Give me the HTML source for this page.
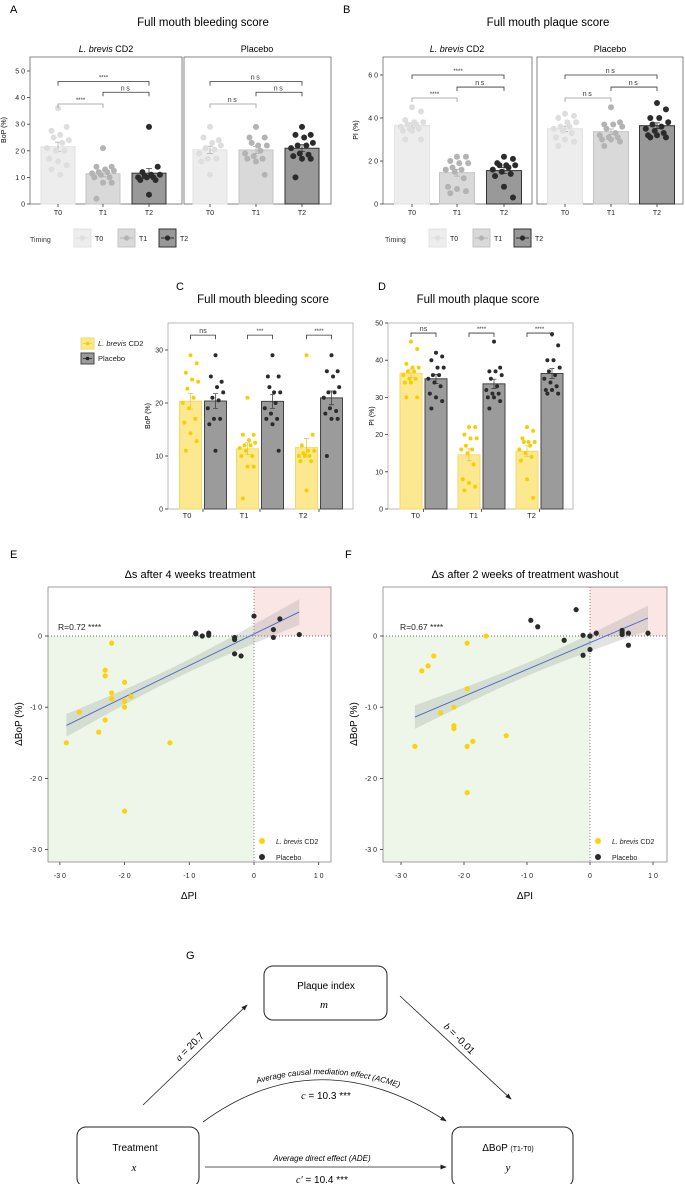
<!DOCTYPE html>
<html><head><meta charset="utf-8">
<style>
html,body{margin:0;padding:0;background:#fff;}
svg{display:block;font-family:"Liberation Sans",Arial,sans-serif;}
</style></head>
<body>
<svg id="fig" width="685" height="1184" viewBox="0 0 685 1184" xmlns="http://www.w3.org/2000/svg">
<text x="10" y="13" font-size="11">A</text>
<text x="343" y="13" font-size="11">B</text>
<text x="203" y="26" font-size="11.5" text-anchor="middle">Full mouth bleeding score</text>
<text x="548" y="26" font-size="11.5" text-anchor="middle">Full mouth plaque score</text>
<text x="106" y="52" font-size="9" text-anchor="middle" font-style="italic">L. brevis <tspan font-style="normal">CD2</tspan></text>
<text x="257" y="52" font-size="9" text-anchor="middle">Placebo</text>
<text x="457" y="52" font-size="9" text-anchor="middle" font-style="italic">L. brevis <tspan font-style="normal">CD2</tspan></text>
<text x="610" y="52" font-size="9" text-anchor="middle">Placebo</text>
<text x="6" y="130" font-size="7" text-anchor="middle" transform="rotate(-90 6 130)">BoP (%)</text>
<text x="358" y="130" font-size="7" text-anchor="middle" transform="rotate(-90 358 130)">PI (%)</text>

<text x="176" y="290" font-size="11">C</text>
<text x="378" y="290" font-size="11">D</text>
<text x="263" y="303" font-size="11.5" text-anchor="middle">Full mouth bleeding score</text>
<text x="478" y="303" font-size="11.5" text-anchor="middle">Full mouth plaque score</text>
<text x="150" y="416" font-size="7" text-anchor="middle" transform="rotate(-90 150 416)">BoP (%)</text>
<text x="374" y="416" font-size="7" text-anchor="middle" transform="rotate(-90 374 416)">PI (%)</text>

<text x="10" y="558" font-size="11">E</text>
<text x="345" y="558" font-size="11">F</text>
<text x="190" y="578" font-size="11" text-anchor="middle">Δs after 4 weeks treatment</text>
<text x="525" y="578" font-size="11" text-anchor="middle">Δs after 2 weeks of treatment washout</text>
<text x="22" y="724" font-size="10" text-anchor="middle" transform="rotate(-90 22 724)">ΔBoP (%)</text>
<text x="357" y="724" font-size="10" text-anchor="middle" transform="rotate(-90 357 724)">ΔBoP (%)</text>
<text x="189" y="899" font-size="10" text-anchor="middle">ΔPI</text>
<text x="525" y="899" font-size="10" text-anchor="middle">ΔPI</text>

<g>
<defs><marker id="ar" markerWidth="8" markerHeight="6" refX="7" refY="3" orient="auto"><path d="M0,0 L8,3 L0,6 z" fill="#222"/></marker></defs>
<text x="186" y="959" font-size="11">G</text>
<rect x="264" y="966" width="123" height="54" rx="9" fill="#fff" stroke="#222" stroke-width="1"/>
<text x="326" y="989" font-size="10" text-anchor="middle">Plaque index</text>
<text x="324" y="1008" font-size="11" font-style="italic" font-family="Liberation Serif,serif" text-anchor="middle">m</text>
<rect x="77" y="1127" width="122" height="60" rx="9" fill="#fff" stroke="#222"/>
<text x="135" y="1151" font-size="10" text-anchor="middle">Treatment</text>
<text x="134" y="1171" font-size="11" font-style="italic" font-family="Liberation Serif,serif" text-anchor="middle">x</text>
<rect x="452" y="1127" width="121" height="60" rx="9" fill="#fff" stroke="#222"/>
<text x="508" y="1151" font-size="10" text-anchor="middle">ΔBoP <tspan font-size="7">(T1-T0)</tspan></text>
<text x="508" y="1171" font-size="11" font-style="italic" font-family="Liberation Serif,serif" text-anchor="middle">y</text>
<line x1="143" y1="1105" x2="247" y2="1005" stroke="#222" stroke-width="0.8" marker-end="url(#ar)"/>
<line x1="400" y1="996" x2="511" y2="1099" stroke="#222" stroke-width="0.8" marker-end="url(#ar)"/>
<path d="M203,1122 Q318,1038 446,1121" fill="none" stroke="#222" stroke-width="0.8" marker-end="url(#ar)"/>
<line x1="205" y1="1167" x2="446" y2="1167" stroke="#222" stroke-width="0.8" marker-end="url(#ar)"/>
<text x="192" y="1049" font-size="10" text-anchor="middle" transform="rotate(-45 192 1049)"><tspan font-style="italic" font-family="Liberation Serif,serif">a</tspan> = 20.7</text>
<text x="457" y="1041" font-size="10" text-anchor="middle" transform="rotate(45 457 1041)"><tspan font-style="italic" font-family="Liberation Serif,serif">b</tspan> = -0.01</text>
<path id="acmePath" d="M248,1086 Q330,1060 408,1091" fill="none"/>
<text font-size="8" font-style="italic"><textPath href="#acmePath" startOffset="50%" text-anchor="middle">Average causal mediation effect (ACME)</textPath></text>
<text x="326" y="1099" font-size="10" text-anchor="middle"><tspan font-style="italic" font-family="Liberation Serif,serif">c</tspan> = 10.3 ***</text>
<text x="322" y="1161" font-size="8" font-style="italic" text-anchor="middle">Average direct effect (ADE)</text>
<text x="322" y="1183" font-size="10" text-anchor="middle"><tspan font-style="italic" font-family="Liberation Serif,serif">c'</tspan> = 10.4 ***</text>
</g>
</svg>
<script>
var timings = ["T0","T1","T2"];
var bopBrevisT0 = [36,29,27.5,26,24,25,23,21,20,20,17,16,14.5,13,11];
var bopBrevisT1 = [21,14,14,13,12.5,12,12,11.5,11,10,10,8,8,2];
var bopBrevisT2 = [29,14,12,11,11,10.5,10,10,10,9,9,3.5];
var bopPlaceboT0 = [29,24,25,23,22,21,20.5,19,17,17,16,11];
var bopPlaceboT1 = [29,25,25,22,22,23,20,19,18,17,17,16,11];
var bopPlaceboT2 = [29,26,26,25,23,22,22,21,19,18.5,18,17,17,10];
var bopBrevisT0C = [29,27.5,25.7,24.4,24,22.7,21,20,19,17,16.3,14.3,12.8,11];
var piBrevisT0 = [45,43,39,38,38,37,37,36,35,35,34,34,30,30];
var piBrevisT1 = [22,22,20,19,19,17,16,16,15,12,8,7,6,5];
var piBrevisT2 = [22,21,19,18,18,18,17,16,15,14,13,8,3];
var piPlaceboT0 = [42,41,40,38,38,36,36,35,34,33,31,30,29,27];
var piPlaceboT1 = [45,38,37,37,36,35,33,32,31,31,30,30,29,27];
var piPlaceboT2 = [47,44,40,40,38,37,36,35,34,33,32,32,31,31];
var ticksA = [0,10,20,30,40,50];
var tickLabelsA = ["0","1 0","2 0","3 0","4 0","5 0"];
var ticksB = [0,20,40,60];
var tickLabelsB = ["0","2 0","4 0","6 0"];
var ticksC = [0,10,20,30];
var tickLabelsC = ["0","10","20","30"];
var ticksD = [0,10,20,30,40,50];
var tickLabelsD = ["0","10","20","30","40","50"];
var sigA_brevis = ["****","ns","****"];
var sigA_placebo = ["ns","ns","ns"];
var sigB_brevis = ["****","ns","****"];
var sigB_placebo = ["ns","ns","ns"];
var sigC = ["ns","***","****"];
var sigD = ["ns","****","****"];
var bracketValsA = [46,42,37.6];
var bracketValsB = [60,54.4,49.3];
var bracketValC = 32.8;
var bracketValD = 47.3;
var eBrevisX = [-29,-27,-24,-23,-23,-23,-22,-22,-22,-20,-20,-20,-19,-20,-13];
var eBrevisY = [-15,-10.7,-13.5,-11.8,-4.8,-5.6,-1,-8,-8.8,-6.5,-9.2,-10,-8.5,-24.6,-15];
var ePlaceboX = [-9,-9,-8,-7,-7,-3,-3,-3,-2,0,3,3,4,7];
var ePlaceboY = [0.3,0.4,0,0.4,0.1,-0.2,-0.5,-2.5,-2.8,2.8,0.9,-0.2,2.4,0.2];
var fBrevisX = [-27.8,-26.7,-25.7,-24.8,-23.7,-21.6,-21.6,-21.6,-19.5,-19.5,-19.5,-19.5,-18.6,-16.5,-13.3];
var fBrevisY = [-15.5,-4.9,-4.2,-2.8,-10.8,-10,-12.6,-13,-1,-7.4,-15.5,-22,-14.8,0,-14];
var fPlaceboX = [-9.4,-8.3,-4.1,-2.2,-1.1,-1.1,0,0,0,1,5.1,5.1,5.1,6.1,6.1,9.2];
var fPlaceboY = [2.2,1.3,-0.6,3.7,0.1,-2.7,0,-1.9,0,0.4,0.8,0.5,0.2,0.4,-1.3,0.4];
var scatterTicksX = [-30,-20,-10,0,10];
var scatterTickLabelsX = ["-3 0","-2 0","-1 0","0","1 0"];
var scatterTicksY = [0,-10,-20,-30];
var scatterTickLabelsY = ["0","-1 0","-2 0","-3 0"];
var rLabelE = "R=0.72 ****";
var rLabelF = "R=0.67 ****";

var svg = document.getElementById('fig');
var NS = 'http://www.w3.org/2000/svg';
function mk(tag, attrs, parent) {
  var el = document.createElementNS(NS, tag);
  for (var k in attrs) el.setAttribute(k, attrs[k]);
  (parent || svg).appendChild(el);
  return el;
}
function mean(a){var s=0;for(var i=0;i<a.length;i++)s+=a[i];return s/a.length;}
function se(a){var m=mean(a),s=0;for(var i=0;i<a.length;i++)s+=(a[i]-m)*(a[i]-m);return Math.sqrt(s/(a.length-1))/Math.sqrt(a.length);}
function jit(i){return (((i*37+5)%11)-5)/5;}

var barFill = ["#ededed","#d9d9d9","#999999"];
var barStroke = ["#e2e2e2","#c4c4c4","#333333"];
var ptFill = ["#dedede","#b3b3b3","#2b2b2b"];

function yAxis(x, ticks, labels, yf) {
  for (var i=0;i<ticks.length;i++){
    var yy = yf(ticks[i]);
    var t = mk('line',{x1:x-3,y1:yy,x2:x,y2:yy,stroke:'#333','stroke-width':0.8});
    
    
    var l = mk('text',{x:x-5,y:yy+2.5,'font-size':7,'text-anchor':'end',fill:'#222'});
    l.textContent = labels[i];
    
    
  }
}

function facetPanel(x0, x1, top, bottom, centers, groups, yf, sigs, brVals, bw, name) {
  var box = mk('rect',{x:x0,y:top,width:x1-x0,height:bottom-top,fill:'none',stroke:'#666','stroke-width':0.8});
  
  
  for (var g=0; g<3; g++){
    var m = mean(groups[g]), cx = centers[g];
    var b = mk('rect',{x:cx-bw/2,y:yf(m),width:bw,height:bottom-yf(m),fill:barFill[g],stroke:barStroke[g],'stroke-width':1});
    
    
    var s = se(groups[g]);
    var eb = mk('path',{d:'M'+(cx-3)+','+yf(m+s)+'H'+(cx+3)+'M'+cx+','+yf(m+s)+'V'+yf(m-s)+'M'+(cx-3)+','+yf(m-s)+'H'+(cx+3),stroke:g==2?'#222':'#aaa','stroke-width':0.7,fill:'none'});
    
    
    for (var i=0;i<groups[g].length;i++){
      var p = mk('circle',{cx:cx+jit(i)*bw*0.32,cy:yf(groups[g][i]),r:3,fill:ptFill[g]});
      
      
    }
    var tk = mk('line',{x1:cx,y1:bottom,x2:cx,y2:bottom+3,stroke:'#333','stroke-width':0.8});
    
    
    var tl = mk('text',{x:cx,y:bottom+11,'font-size':7,'text-anchor':'middle',fill:'#222'});
    tl.textContent = timings[g];
    
    
  }
  var pairs = [[0,2],[1,2],[0,1]];
  for (var k=0;k<3;k++){
    var a = centers[pairs[k][0]], c = centers[pairs[k][1]], yy = yf(brVals[k]);
    var br = mk('path',{d:'M'+a+','+(yy+4)+'V'+yy+'H'+c+'V'+(yy+4),fill:'none',stroke:k==2?'#999':'#333','stroke-width':0.8});
    
    
    var st = mk('text',{x:(a+c)/2,y:yy-2,'font-size':sigs[k]=='ns'?7:6,'text-anchor':'middle',fill:'#333','letter-spacing':sigs[k]=='ns'?1.5:0});
    st.textContent = sigs[k];
    
    
  }
}

var yA = function(v){return 204 - v*2.66;};
yAxis(30, ticksA, tickLabelsA, yA);
facetPanel(30,182,57,204,[58,103,149],[bopBrevisT0,bopBrevisT1,bopBrevisT2],yA,sigA_brevis,bracketValsA,34,'a-brevis');
facetPanel(184,331,57,204,[210,256,302],[bopPlaceboT0,bopPlaceboT1,bopPlaceboT2],yA,sigA_placebo,bracketValsA,34,'a-placebo');
var yB = function(v){return 204 - v*2.15;};
yAxis(383, ticksB, tickLabelsB, yB);
facetPanel(383,532,57,204,[412,457,504],[piBrevisT0,piBrevisT1,piBrevisT2],yB,sigB_brevis,bracketValsB,35,'b-brevis');
facetPanel(537,683,57,204,[565,611,657],[piPlaceboT0,piPlaceboT1,piPlaceboT2],yB,sigB_placebo,bracketValsB,35,'b-placebo');

function timingLegend(x, name){
  var t = mk('text',{x:x,y:242,'font-size':7,fill:'#333'});
  t.textContent='Timing';
  
  
  var xs=[x+44,x+88,x+129];
  for (var g=0;g<3;g++){
    var r = mk('rect',{x:xs[g],y:229,width:17,height:18,fill:barFill[g],stroke:barStroke[g],'stroke-width':1});
    
    
    mk('line',{x1:xs[g]+2,y1:238,x2:xs[g]+15,y2:238,stroke:ptFill[g],'stroke-width':1});
    mk('circle',{cx:xs[g]+8.5,cy:238,r:2.6,fill:ptFill[g]});
    var l = mk('text',{x:xs[g]+21,y:241,'font-size':7,fill:'#222'});
    l.textContent = timings[g];
    
    
  }
}
timingLegend(30,'a');
timingLegend(385,'b');

var yellowBar='#fbe88f', yellowStroke='#f3d86b', yellowPt='#f7cf00';
function groupedPanel(x0,x1,top,bottom,centers,brevis,placebo,yf,ticks,labels,sigs,brVal,bw,lblOff,name){
  var box = mk('rect',{x:x0,y:top,width:x1-x0,height:bottom-top,fill:'none',stroke:'#aaa','stroke-width':0.8});
  
  
  yAxis(x0, ticks, labels, yf);
  for (var g=0;g<3;g++){
    var sets=[brevis[g],placebo[g]];
    for (var s=0;s<2;s++){
      var cx = centers[g] + (s==0?-1:1)*(bw/2+1.5);
      var m = mean(sets[s]);
      var b = mk('rect',{x:cx-bw/2,y:yf(m),width:bw,height:bottom-yf(m),fill:s==0?yellowBar:'#9b9b9b',stroke:s==0?yellowStroke:'#444','stroke-width':1});
      
      
      var e = se(sets[s]);
      var eb = mk('path',{d:'M'+(cx-2.5)+','+yf(m+e)+'H'+(cx+2.5)+'M'+cx+','+yf(m+e)+'V'+yf(m-e)+'M'+(cx-2.5)+','+yf(m-e)+'H'+(cx+2.5),stroke:s==0?'#e8c040':'#333','stroke-width':0.7,fill:'none'});
      
      
      for (var i=0;i<sets[s].length;i++){
        var p = mk('circle',{cx:cx+jit(i)*bw*0.35,cy:yf(sets[s][i]),r:2,fill:s==0?yellowPt:'#2b2b2b'});
        
        
      }
    }
    var a = centers[g]-bw/2-1.5, c = centers[g]+bw/2+1.5, yy=yf(brVal);
    var br = mk('path',{d:'M'+a+','+(yy+4)+'V'+yy+'H'+c+'V'+(yy+4),fill:'none',stroke:'#333','stroke-width':0.8});
    
    
    var st = mk('text',{x:centers[g],y:yy-2,'font-size':sigs[g]=='ns'?7:6,'text-anchor':'middle',fill:'#333'});
    st.textContent = sigs[g];
    
    
    var tk = mk('line',{x1:centers[g],y1:bottom,x2:centers[g],y2:bottom+3,stroke:'#333','stroke-width':0.8});
    
    
    var tl = mk('text',{x:centers[g]+lblOff,y:bottom+9,'font-size':7.5,'text-anchor':'middle',fill:'#222'});
    tl.textContent = timings[g];
    
    
  }
}
var yC = function(v){return 509 - v*5.3;};
groupedPanel(168,353,323,509,[203,260,319],[bopBrevisT0C,bopBrevisT1,bopBrevisT2],[bopPlaceboT0,bopPlaceboT1,bopPlaceboT2],yC,ticksC,tickLabelsC,sigC,bracketValC,22,-16,'c');
var yD = function(v){return 509 - v*3.72;};
groupedPanel(388,573,323,509,[423.5,481.5,539.5],[piBrevisT0,piBrevisT1,piBrevisT2],[piPlaceboT0,piPlaceboT1,piPlaceboT2],yD,ticksD,tickLabelsD,sigD,bracketValD,22,-8,'d');
(function(){
  var r1 = mk('rect',{x:81,y:338,width:13,height:11,fill:yellowBar,stroke:yellowStroke});
  
  
  mk('line',{x1:83,y1:343.5,x2:92,y2:343.5,stroke:yellowPt,'stroke-width':0.8});
  mk('circle',{cx:87.5,cy:343.5,r:1.8,fill:yellowPt});
  var t1 = mk('text',{x:98,y:346,'font-size':7.5,fill:'#222','font-style':'italic'});
  t1.textContent='L. brevis ';
  
  
  var ts = mk('tspan',{'font-style':'normal'},t1); ts.textContent='CD2';
  var r2 = mk('rect',{x:81,y:353,width:13,height:11,fill:'#9b9b9b',stroke:'#444'});
  
  
  mk('line',{x1:83,y1:358.5,x2:92,y2:358.5,stroke:'#222','stroke-width':0.8});
  mk('circle',{cx:87.5,cy:358.5,r:1.8,fill:'#222'});
  var t2 = mk('text',{x:98,y:361,'font-size':7.5,fill:'#222'});
  t2.textContent='Placebo';
  
  
})();

function scatterPanel(x0,x1,top,bottom,xf,yf,bx,by,px,py,rLabel,rx,name){
  var X0 = xf(0), Y0 = yf(0);
  var g1 = mk('rect',{x:x0,y:Y0,width:X0-x0,height:bottom-Y0,fill:'#edf6e8'});
  
  
  var g2 = mk('rect',{x:X0,y:top,width:x1-X0,height:Y0-top,fill:'#fbe6e6'});
  
  
  mk('line',{x1:x0,y1:Y0,x2:x1,y2:Y0,stroke:'#333','stroke-width':0.8,'stroke-dasharray':'1,2'});
  mk('line',{x1:X0,y1:top,x2:X0,y2:bottom,stroke:'#666','stroke-width':0.8,'stroke-dasharray':'1,2'});
  var xs = bx.concat(px), ys = by.concat(py), n = xs.length;
  var mx = mean(xs), my = mean(ys), sxx=0, sxy=0;
  for (var i=0;i<n;i++){sxx+=(xs[i]-mx)*(xs[i]-mx);sxy+=(xs[i]-mx)*(ys[i]-my);}
  var slope = sxy/sxx, icpt = my - slope*mx, rss=0;
  for (var i=0;i<n;i++){var r=ys[i]-(icpt+slope*xs[i]);rss+=r*r;}
  var s = Math.sqrt(rss/(n-2));
  var xmin = Math.min.apply(null,xs), xmax = Math.max.apply(null,xs);
  var up='', lo='';
  for (var k=0;k<=40;k++){
    var xv = xmin + (xmax-xmin)*k/40, yv = icpt+slope*xv;
    var hw = 1.0*s*Math.sqrt(1/n + (xv-mx)*(xv-mx)/sxx);
    up += (k?'L':'M')+xf(xv).toFixed(1)+','+yf(yv+hw).toFixed(1);
    lo = 'L'+xf(xv).toFixed(1)+','+yf(yv-hw).toFixed(1) + lo;
  }
  var band = mk('path',{d:up+lo+'Z',fill:'#9aa39a','fill-opacity':0.3});
  
  
  var ln = mk('line',{x1:xf(xmin),y1:yf(icpt+slope*xmin),x2:xf(xmax),y2:yf(icpt+slope*xmax),stroke:'#4a63c8','stroke-width':0.9});
  
  
  for (var i=0;i<bx.length;i++){
    var p = mk('circle',{cx:xf(bx[i]),cy:yf(by[i]),r:2.6,fill:'#fcd20b'});
    
    
  }
  for (var i=0;i<px.length;i++){
    var p2 = mk('circle',{cx:xf(px[i]),cy:yf(py[i]),r:2.6,fill:'#2b2b2b'});
    
    
  }
  var box = mk('rect',{x:x0,y:top,width:x1-x0,height:bottom-top,fill:'none',stroke:'#888','stroke-width':0.8});
  
  
  for (var i=0;i<scatterTicksY.length;i++){
    var yy=yf(scatterTicksY[i]);
    mk('line',{x1:x0-3,y1:yy,x2:x0,y2:yy,stroke:'#333','stroke-width':0.8});
    var t = mk('text',{x:x0-6,y:yy+2.5,'font-size':7,'text-anchor':'end',fill:'#222'});
    t.textContent = scatterTickLabelsY[i];
    
    
  }
  for (var i=0;i<scatterTicksX.length;i++){
    var xx=xf(scatterTicksX[i]);
    mk('line',{x1:xx,y1:bottom,x2:xx,y2:bottom+3,stroke:'#333','stroke-width':0.8});
    var t2 = mk('text',{x:xx,y:bottom+16,'font-size':7,'text-anchor':'middle',fill:'#222'});
    t2.textContent = scatterTickLabelsX[i];
    
    
  }
  var rt = mk('text',{x:rx,y:Y0-6,'font-size':8.5,fill:'#222'});
  rt.textContent = rLabel;
  
  
  var lx = X0+8;
  var c1 = mk('circle',{cx:lx,cy:841,r:3,fill:'#fcd20b'});
  
  
  var l1 = mk('text',{x:lx+14,y:844,'font-size':7,fill:'#222','font-style':'italic'});
  l1.textContent='L. brevis ';
  
  
  var tsp = mk('tspan',{'font-style':'normal'},l1); tsp.textContent='CD2';
  var c2 = mk('circle',{cx:lx,cy:857,r:3,fill:'#2b2b2b'});
  
  
  var l2 = mk('text',{x:lx+14,y:860,'font-size':7,fill:'#222'});
  l2.textContent='Placebo';
  
  
}
var yE = function(v){return 636 - v*7.12;};
var xE = function(v){return 254 + v*6.47;};
scatterPanel(48,331,587,862,xE,yE,eBrevisX,eBrevisY,ePlaceboX,ePlaceboY,rLabelE,58,'e');
var xF = function(v){return 590 + v*6.3;};
scatterPanel(383,667,587,862,xF,yE,fBrevisX,fBrevisY,fPlaceboX,fPlaceboY,rLabelF,400,'f');
</script>
</body></html>
